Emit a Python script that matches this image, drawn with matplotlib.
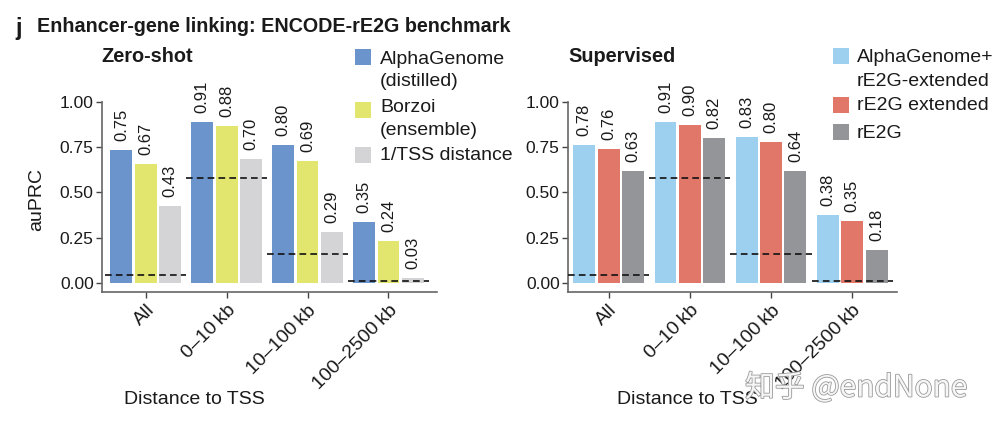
#!/usr/bin/env python3
# -*- coding: utf-8 -*-

import matplotlib
matplotlib.use("Agg")
import matplotlib.pyplot as plt
import matplotlib.patheffects as pe
from matplotlib.patches import Rectangle
import numpy as np

# categories on the x axis
bins = ["All", "0\u201310\u2009kb", "10\u2013100\u2009kb", "100\u20132500\u2009kb"]
# baseline (fraction of positives) per distance bin, drawn as dashed lines
baseline = [0.044, 0.58, 0.157, 0.012]

# zero-shot panel
zs_names = ["AlphaGenome\n(distilled)", "Borzoi\n(ensemble)", "1/TSS distance"]
zs_alphagenome = [0.733, 0.886, 0.759, 0.337]
zs_borzoi = [0.656, 0.864, 0.670, 0.232]
zs_tss = [0.424, 0.685, 0.280, 0.028]
zs_lab_alphagenome = ["0.75", "0.91", "0.80", "0.35"]
zs_lab_borzoi = ["0.67", "0.88", "0.69", "0.24"]
zs_lab_tss = ["0.43", "0.70", "0.29", "0.03"]

# supervised panel
sup_names = ["AlphaGenome+\nrE2G-extended", "rE2G extended", "rE2G"]
sup_ag_ext = [0.759, 0.887, 0.806, 0.373]
sup_ext = [0.739, 0.872, 0.777, 0.340]
sup_re2g = [0.616, 0.797, 0.616, 0.181]
sup_lab_ag_ext = ["0.78", "0.91", "0.83", "0.38"]
sup_lab_ext = ["0.76", "0.90", "0.80", "0.35"]
sup_lab_re2g = ["0.63", "0.82", "0.64", "0.18"]

zs_colors = ["#6b93cc", "#e2e66f", "#d4d4d6"]
sup_colors = ["#9dcfee", "#e07769", "#949598"]

plt.rcParams['font.family'] = ['Liberation Sans', 'DejaVu Sans']
TXT = "#1a1a1a"

W, H = 994, 430
fig = plt.figure(figsize=(W / 100, H / 100), dpi=100)


def px(x, y):
    # pixel position -> figure fraction
    return x / W, 1 - y / H


def draw_panel(ax, series, labels, colors, xlim):
    x = np.arange(len(bins))
    width = 0.27
    step = 0.30
    for i, (vals, labs, col) in enumerate(zip(series, labels, colors)):
        pos = x + (i - 1) * step
        ax.bar(pos, vals, width=width, color=col, edgecolor="none", zorder=2)
        for xp, v, t in zip(pos, vals, labs):
            ax.annotate(t, (xp, v), xytext=(0, 6.5), textcoords="offset points",
                        rotation=90, ha="center", va="bottom", fontsize=12, color=TXT)
    for xc, b in zip(x, baseline):
        ax.plot([xc - 0.5, xc + 0.5], [b, b], ls=(0, (4, 2.5)), color="#111111",
                lw=1.2, zorder=3)

    ax.set_xlim(*xlim)
    ax.set_ylim(-0.05, 1.34)
    ax.set_yticks([0, 0.25, 0.5, 0.75, 1.0])
    ax.set_yticklabels(["0.00", "0.25", "0.50", "0.75", "1.00"])
    ax.set_xticks(x)
    ax.set_xticklabels(bins, rotation=45, ha="right", rotation_mode="anchor")
    for s in ["top", "right"]:
        ax.spines[s].set_visible(False)
    ax.spines["left"].set_bounds(-0.05, 1.0)
    for s in ["left", "bottom"]:
        ax.spines[s].set_color("#666666")
        ax.spines[s].set_linewidth(1.2)
    ax.tick_params(axis="both", length=4, width=1.0, color="#444444",
                   labelsize=12.5, labelcolor=TXT, pad=2)
    ax.tick_params(axis="x", labelsize=14, pad=3)


# panel geometry in pixels
ax1 = fig.add_axes([102 / W, 1 - 292 / H, 335 / W, 252 / H])
ax2 = fig.add_axes([568 / W, 1 - 292 / H, 329 / W, 252 / H])

draw_panel(ax1, [zs_alphagenome, zs_borzoi, zs_tss],
           [zs_lab_alphagenome, zs_lab_borzoi, zs_lab_tss], zs_colors, (-0.54, 3.6))
draw_panel(ax2, [sup_ag_ext, sup_ext, sup_re2g],
           [sup_lab_ag_ext, sup_lab_ext, sup_lab_re2g], sup_colors, (-0.5, 3.55))

# titles and axis labels
fig.text(*px(15, 28), "j", fontsize=17, fontweight="bold", color=TXT, va="center")
fig.text(*px(37, 27), "Enhancer-gene linking: ENCODE-rE2G benchmark", fontsize=14.2,
         fontweight="bold", color=TXT, va="center")
fig.text(*px(101, 57), "Zero-shot", fontsize=14.3, fontweight="bold", color=TXT, va="center")
fig.text(*px(568, 57), "Supervised", fontsize=14.3, fontweight="bold", color=TXT, va="center")
fig.text(*px(37, 200), "auPRC", fontsize=14, rotation=90, ha="center", va="center", color=TXT)
fig.text(*px(194, 399), "Distance to TSS", fontsize=14, ha="center", va="center", color=TXT)
fig.text(*px(687, 399), "Distance to TSS", fontsize=14, ha="center", va="center", color=TXT)


def legend(x_sq, x_txt, names, colors, sq_y, line_y):
    for name, col, sy, ly in zip(names, colors, sq_y, line_y):
        x0, y0 = px(x_sq, sy + 8)
        fig.patches.append(Rectangle((x0, y0), 16 / W, 16 / H, transform=fig.transFigure,
                                     facecolor=col, edgecolor="none"))
        for k, line in enumerate(name.split("\n")):
            fig.text(*px(x_txt, ly[k]), line, fontsize=14, color=TXT, va="center")


legend(355, 380, zs_names, zs_colors, [57, 110, 155], [[59, 82], [107, 131], [156]])
legend(833, 857, sup_names, sup_colors, [56, 105, 132], [[57, 81], [106], [133]])

# watermark
fig.text(*px(745, 388), "知乎 @endNone", fontsize=21.5, color="#f6f6f6", va="center",
         family=["Noto Sans CJK SC", "DejaVu Sans"],
         path_effects=[pe.withStroke(linewidth=1.2, foreground="#9a9a9a")])

fig.savefig("out.png", dpi=100)
